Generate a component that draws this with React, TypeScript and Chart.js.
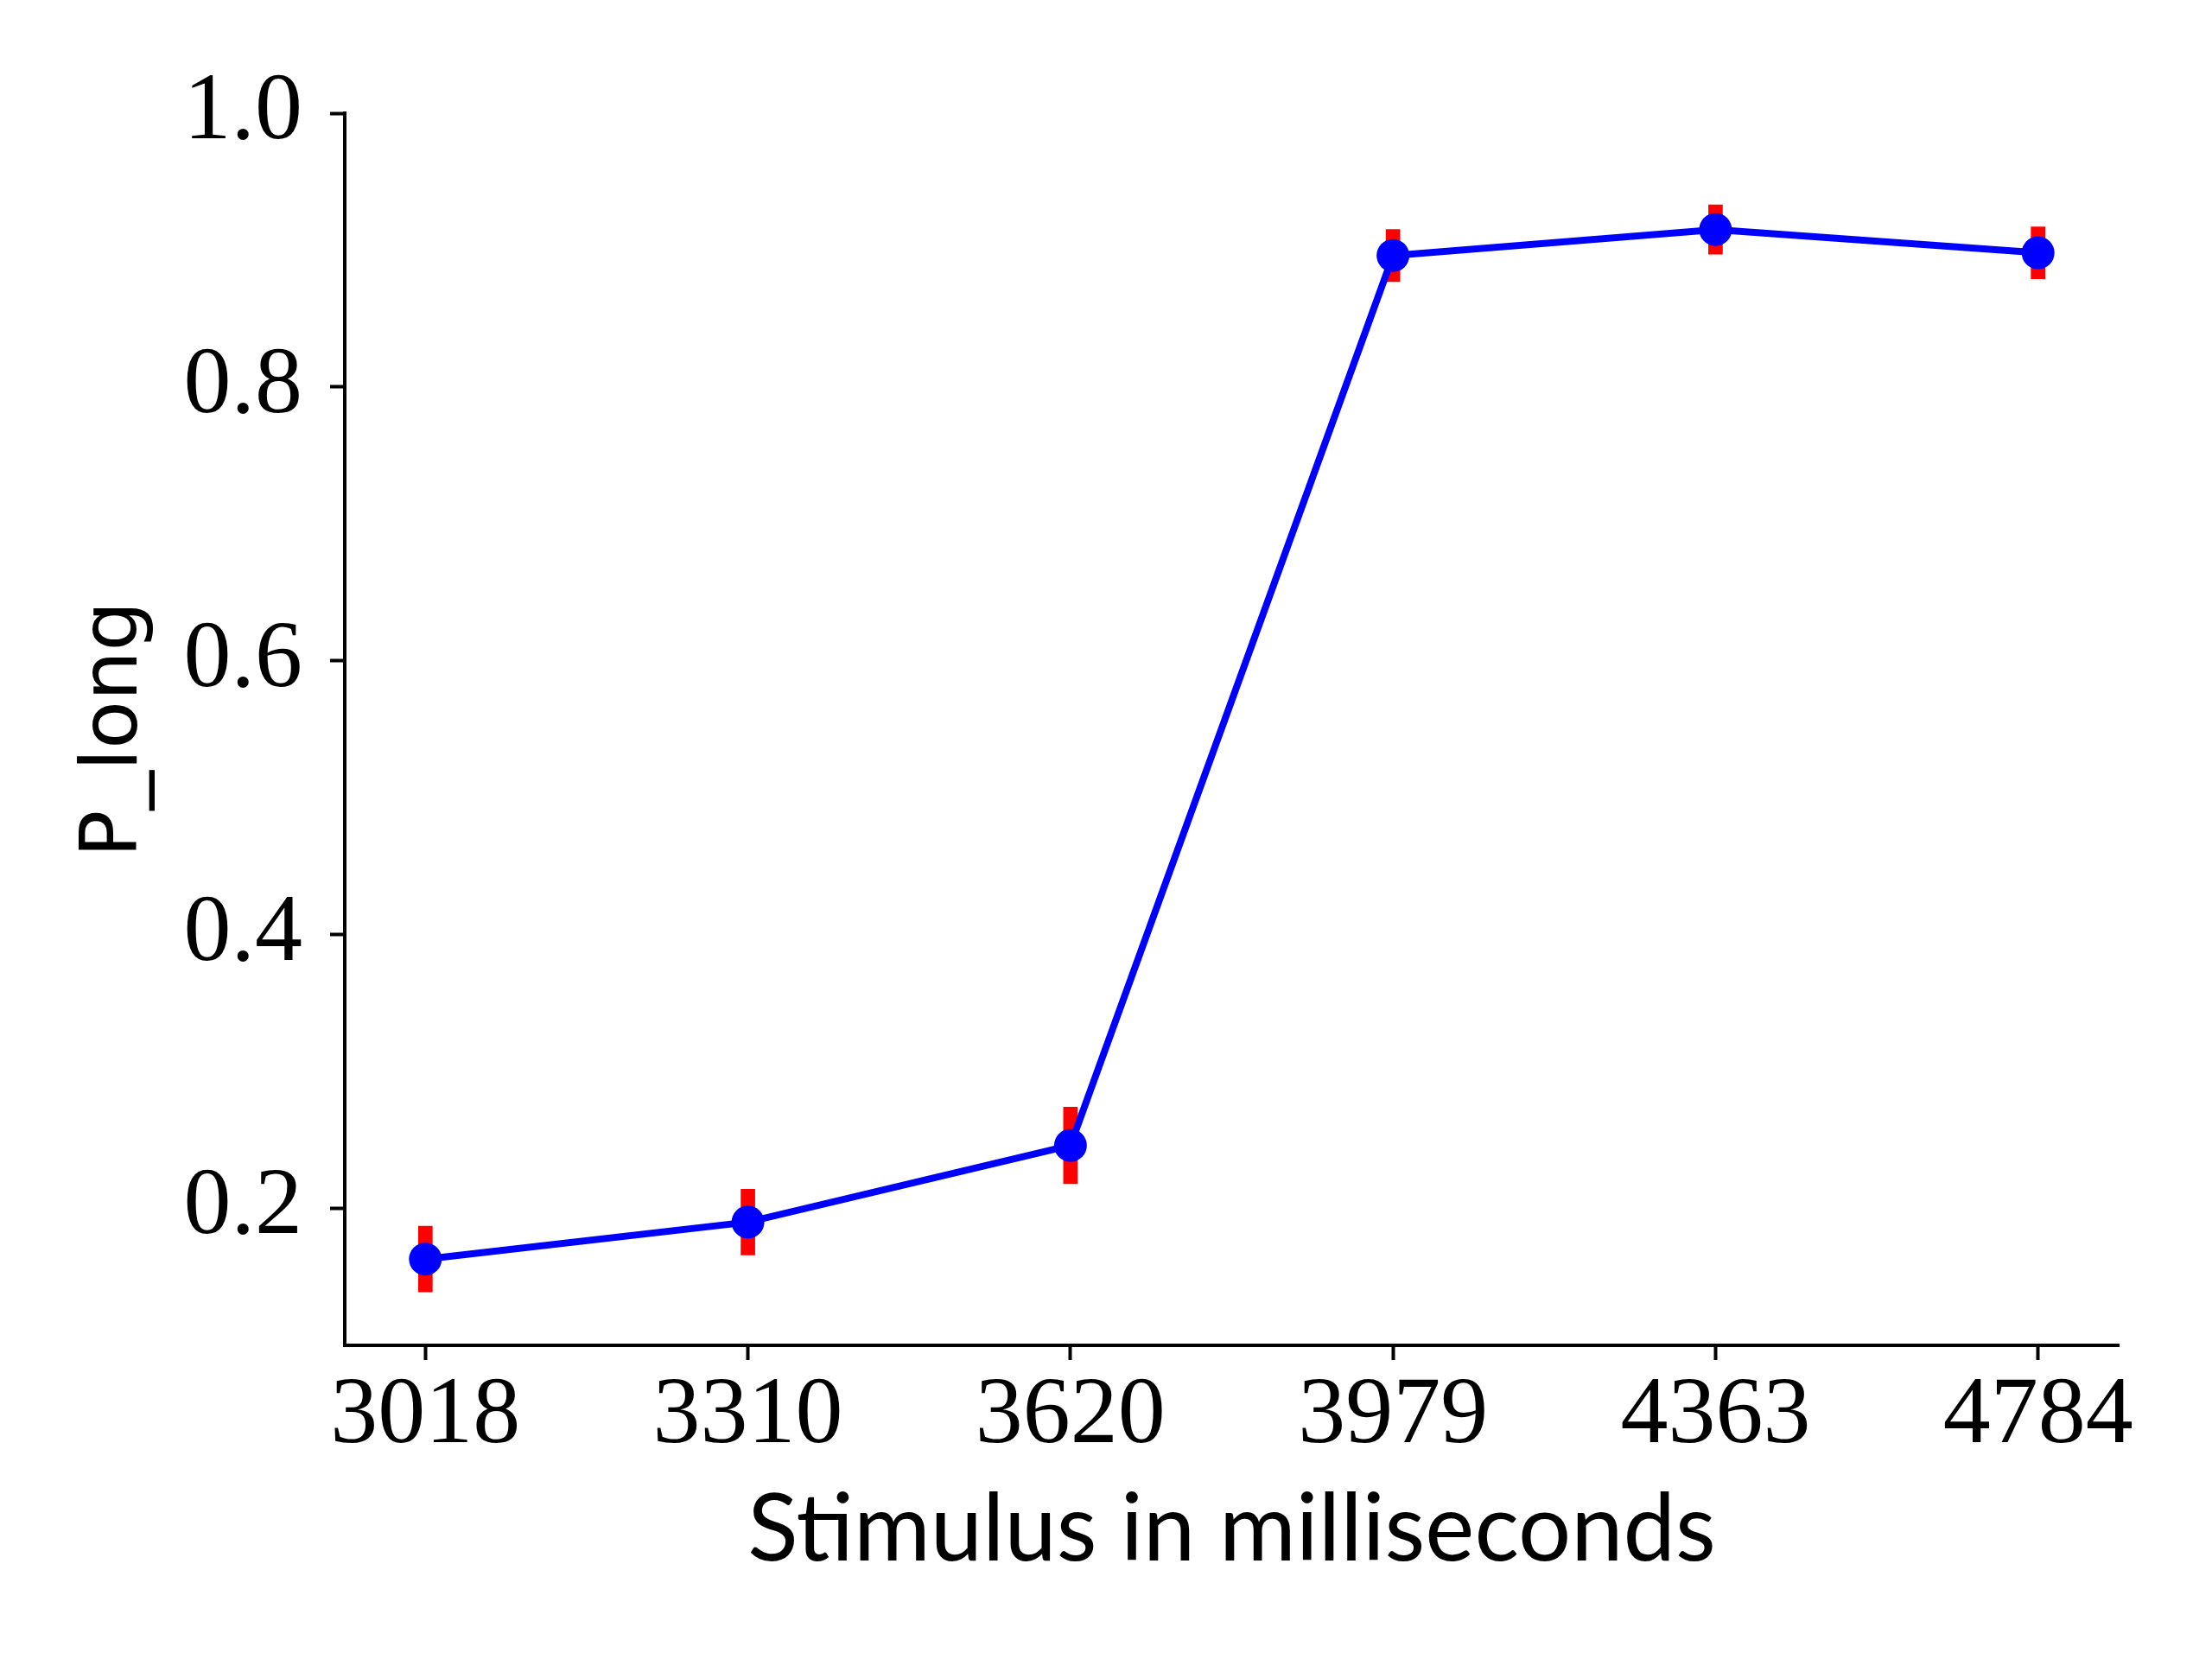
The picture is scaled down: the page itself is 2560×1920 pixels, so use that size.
import React, { useEffect, useRef } from "react";
import { Chart, registerables } from "chart.js";

Chart.register(...registerables);

const categories = ["3018", "3310", "3620", "3979", "4363", "4784"];
const pLong = [0.163, 0.19, 0.246, 0.896, 0.915, 0.898];
const errors = [0.024, 0.024, 0.028, 0.019, 0.018, 0.019];
const yTicks = [0.2, 0.4, 0.6, 0.8, 1.0];
const xLabel = "Stimulus in milliseconds";
const yLabel = "P_long";

export default function App() {
  const ref = useRef<HTMLCanvasElement | null>(null);

  useEffect(() => {
    document.body.style.margin = "0";
    const canvas = ref.current;
    if (!canvas) return;
    const chart = new Chart(canvas, {
      type: "line",
      data: {
        datasets: [
          {
            type: "line",
            data: categories.map((_, i) => ({ x: i, y: pLong[i] })),
            borderColor: "#0000ff",
            backgroundColor: "#0000ff",
            borderWidth: 8,
            pointRadius: 19,
            pointBorderWidth: 0,
            pointBackgroundColor: "#0000ff",
            tension: 0,
            fill: false,
            order: 1,
          } as any,
          {
            type: "bar",
            data: categories.map((_, i) => ({ x: i, y: [pLong[i] - errors[i], pLong[i] + errors[i]] })),
            backgroundColor: "#ff0000",
            borderWidth: 0,
            barThickness: 16,
            order: 2,
          } as any,
        ],
      },
      options: {
        animation: false,
        responsive: false,
        devicePixelRatio: 1,
        layout: { padding: { top: 131, right: 108, left: 0, bottom: 0 } },
        plugins: { legend: { display: false }, tooltip: { enabled: false } },
        scales: {
          x: {
            type: "linear",
            min: -0.25,
            max: 5.25,
            offset: false,
            afterBuildTicks: (scale: any) => {
              scale.ticks = categories.map((_, i) => ({ value: i }));
            },
            afterFit: (scale: any) => {
              scale.height = 363;
            },
            ticks: {
              callback: (v: any) => categories[Math.round(Number(v))] ?? "",
              font: { family: "Liberation Serif", size: 110 },
              color: "#000",
              padding: 0,
              maxRotation: 0,
              autoSkip: false,
            },
            grid: {
              display: true,
              offset: false,
              drawOnChartArea: false,
              drawTicks: true,
              tickLength: 17,
              tickWidth: 4,
              tickColor: "#000",
            },
            border: { display: true, color: "#000", width: 4 },
            title: {
              display: true,
              text: xLabel,
              font: { family: "Lato", size: 108 },
              color: "#000",
              padding: { top: 0, bottom: 84 },
            },
          },
          y: {
            type: "linear",
            min: 0.1,
            max: 1.0,
            afterBuildTicks: (scale: any) => {
              scale.ticks = yTicks.map((v) => ({ value: v }));
            },
            afterFit: (scale: any) => {
              scale.width = 399;
            },
            ticks: {
              callback: (v: any) => Number(v).toFixed(1),
              font: { family: "Liberation Serif", size: 110 },
              color: "#000",
              padding: 32,
            },
            grid: {
              display: true,
              drawOnChartArea: false,
              drawTicks: true,
              tickLength: 17,
              tickWidth: 4,
              tickColor: "#000",
            },
            border: { display: true, color: "#000", width: 4 },
            title: {
              display: true,
              text: yLabel,
              font: { family: "DejaVu Sans", size: 91 },
              color: "#000",
              padding: { top: 80, bottom: 0 },
            },
          },
        },
      },
    });
    return () => chart.destroy();
  }, []);

  return (
    <div style={{ width: 2560, height: 1920, background: "#fff" }}>
      <canvas ref={ref} width={2560} height={1920} style={{ display: "block", width: 2560, height: 1920 }} />
    </div>
  );
}
